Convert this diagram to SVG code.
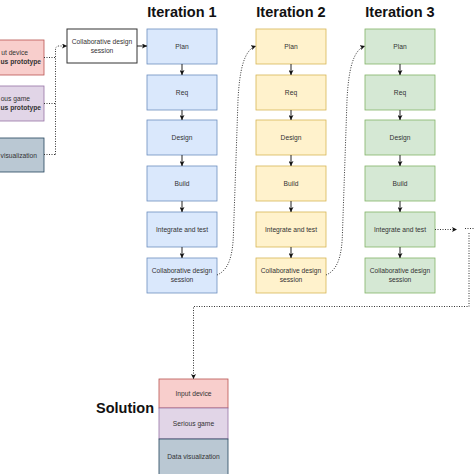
<svg xmlns="http://www.w3.org/2000/svg" width="474" height="474" viewBox="0 0 474 474">
<style>
  .t{font-family:"Liberation Sans",Arial,sans-serif;font-size:6.7px;fill:#333;text-anchor:middle}
  .e{text-anchor:end}
  .b{font-weight:bold}
  .h{font-family:"Liberation Sans",Arial,sans-serif;font-size:14.5px;font-weight:bold;fill:#111;text-anchor:middle}
  .blue{fill:#dae8fc;stroke:#6c8ebf;stroke-width:0.8}
  .yel{fill:#fff2cc;stroke:#d6b656;stroke-width:0.8}
  .grn{fill:#d5e8d4;stroke:#82b366;stroke-width:0.8}
  .red{fill:#f8cecc;stroke:#b85450;stroke-width:0.8}
  .pur{fill:#e1d5e7;stroke:#9673a6;stroke-width:0.8}
  .gry{fill:#bac8d3;stroke:#23445d;stroke-width:0.8}
  .wht{fill:#fff;stroke:#333;stroke-width:1}
  .sol{fill:none;stroke:#222;stroke-width:1}
  .dot{fill:none;stroke:#333;stroke-width:1;stroke-dasharray:1 1.5}
</style>
<defs>
  <marker id="ar" viewBox="0 0 10 10" refX="10" refY="5" markerWidth="5" markerHeight="5" markerUnits="userSpaceOnUse" orient="auto">
    <path d="M0,0 L10,5 L0,10 L2.5,5 Z" fill="#111"/>
  </marker>
</defs>

<!-- titles -->
<text class="h" x="182" y="17">Iteration 1</text>
<text class="h" x="291" y="17">Iteration 2</text>
<text class="h" x="400" y="17">Iteration 3</text>
<text class="h" x="125" y="413">Solution</text>

<!-- left inputs -->
<g id="in-device"><rect class="red" x="-26" y="40" width="70" height="35"/>
  <text class="t e" x="28" y="55">ut device</text>
  <text class="t e b" x="41" y="63.5">us prototype</text></g>
<g id="in-game"><rect class="pur" x="-26" y="86" width="70" height="35"/>
  <text class="t e" x="30" y="101">ous game</text>
  <text class="t e b" x="41" y="109.5">us prototype</text></g>
<g id="in-viz"><rect class="gry" x="-26" y="138" width="70" height="34"/>
  <text class="t e" x="37" y="157.5">visualization</text></g>

<g id="collab0"><rect class="wht" x="67" y="29" width="70" height="34"/>
  <text class="t" x="102" y="44">Collaborative design</text>
  <text class="t" x="102" y="52.5">session</text></g>

<!-- Iteration 1 -->
<g id="i1-plan"><rect class="blue" x="147" y="29" width="70" height="35"/><text class="t" x="182" y="48.8">Plan</text></g>
<g id="i1-req"><rect class="blue" x="147" y="75" width="70" height="35"/><text class="t" x="182" y="94.8">Req</text></g>
<g id="i1-design"><rect class="blue" x="147" y="120" width="70" height="35"/><text class="t" x="182" y="139.8">Design</text></g>
<g id="i1-build"><rect class="blue" x="147" y="166" width="70" height="35"/><text class="t" x="182" y="185.8">Build</text></g>
<g id="i1-test"><rect class="blue" x="147" y="212" width="70" height="35"/><text class="t" x="182" y="231.8">Integrate and test</text></g>
<g id="i1-collab"><rect class="blue" x="147" y="258" width="70" height="35"/><text class="t" x="182" y="273">Collaborative design</text><text class="t" x="182" y="281.5">session</text></g>

<!-- Iteration 2 -->
<g id="i2-plan"><rect class="yel" x="256" y="29" width="70" height="35"/><text class="t" x="291" y="48.8">Plan</text></g>
<g id="i2-req"><rect class="yel" x="256" y="75" width="70" height="35"/><text class="t" x="291" y="94.8">Req</text></g>
<g id="i2-design"><rect class="yel" x="256" y="120" width="70" height="35"/><text class="t" x="291" y="139.8">Design</text></g>
<g id="i2-build"><rect class="yel" x="256" y="166" width="70" height="35"/><text class="t" x="291" y="185.8">Build</text></g>
<g id="i2-test"><rect class="yel" x="256" y="212" width="70" height="35"/><text class="t" x="291" y="231.8">Integrate and test</text></g>
<g id="i2-collab"><rect class="yel" x="256" y="258" width="70" height="35"/><text class="t" x="291" y="273">Collaborative design</text><text class="t" x="291" y="281.5">session</text></g>

<!-- Iteration 3 -->
<g id="i3-plan"><rect class="grn" x="365" y="29" width="70" height="35"/><text class="t" x="400" y="48.8">Plan</text></g>
<g id="i3-req"><rect class="grn" x="365" y="75" width="70" height="35"/><text class="t" x="400" y="94.8">Req</text></g>
<g id="i3-design"><rect class="grn" x="365" y="120" width="70" height="35"/><text class="t" x="400" y="139.8">Design</text></g>
<g id="i3-build"><rect class="grn" x="365" y="166" width="70" height="35"/><text class="t" x="400" y="185.8">Build</text></g>
<g id="i3-test"><rect class="grn" x="365" y="212" width="70" height="35"/><text class="t" x="400" y="231.8">Integrate and test</text></g>
<g id="i3-collab"><rect class="grn" x="365" y="258" width="70" height="35"/><text class="t" x="400" y="273">Collaborative design</text><text class="t" x="400" y="281.5">session</text></g>

<!-- Solution stack -->
<g id="sol-device"><rect class="red" x="159" y="379" width="69" height="29"/><text class="t" x="193.5" y="396">Input device</text></g>
<g id="sol-game"><rect class="pur" x="159" y="408" width="69" height="31"/><text class="t" x="193.5" y="425.5">Serious game</text></g>
<g id="sol-viz"><rect class="gry" x="159" y="439" width="69" height="37"/><text class="t" x="193.5" y="459">Data visualization</text></g>

<!-- connectors -->
<g id="connectors">
  <path class="sol" marker-end="url(#ar)" d="M137,46 H147"/>
  <path class="dot" d="M44,57.5 H55.5 M44,103.5 H55.5 M44,154.5 H55.5 M55.5,154.5 V50"/>
  <path class="dot" marker-end="url(#ar)" d="M55.5,50 Q55.5,46 59,46 H67"/>

  <path class="sol" marker-end="url(#ar)" d="M182,64 V75"/>
  <path class="sol" marker-end="url(#ar)" d="M182,110 V120"/>
  <path class="sol" marker-end="url(#ar)" d="M182,155 V166"/>
  <path class="sol" marker-end="url(#ar)" d="M182,201 V212"/>
  <path class="sol" marker-end="url(#ar)" d="M182,247 V258"/>
  <path class="sol" marker-end="url(#ar)" d="M291,64 V75"/>
  <path class="sol" marker-end="url(#ar)" d="M291,110 V120"/>
  <path class="sol" marker-end="url(#ar)" d="M291,155 V166"/>
  <path class="sol" marker-end="url(#ar)" d="M291,201 V212"/>
  <path class="sol" marker-end="url(#ar)" d="M291,247 V258"/>
  <path class="sol" marker-end="url(#ar)" d="M400,64 V75"/>
  <path class="sol" marker-end="url(#ar)" d="M400,110 V120"/>
  <path class="sol" marker-end="url(#ar)" d="M400,155 V166"/>
  <path class="sol" marker-end="url(#ar)" d="M400,201 V212"/>
  <path class="sol" marker-end="url(#ar)" d="M400,247 V258"/>

  <path class="dot" marker-end="url(#ar)" d="M217,275 C229,270 233,255 233.5,232 L238,100 C239.5,70 244,50 256,46"/>
  <path class="dot" marker-end="url(#ar)" d="M326,275 C338,270 342,255 342.5,232 L347,100 C348.5,70 353,50 365,46"/>

  <path class="dot" marker-end="url(#ar)" d="M435,229.5 H457"/>
  <path class="dot" d="M465,228.5 H474 M469,233 V306.5 H193.5 V372"/>
  <path class="dot" marker-end="url(#ar)" d="M193.5,370 V379"/>
</g>
</svg>
